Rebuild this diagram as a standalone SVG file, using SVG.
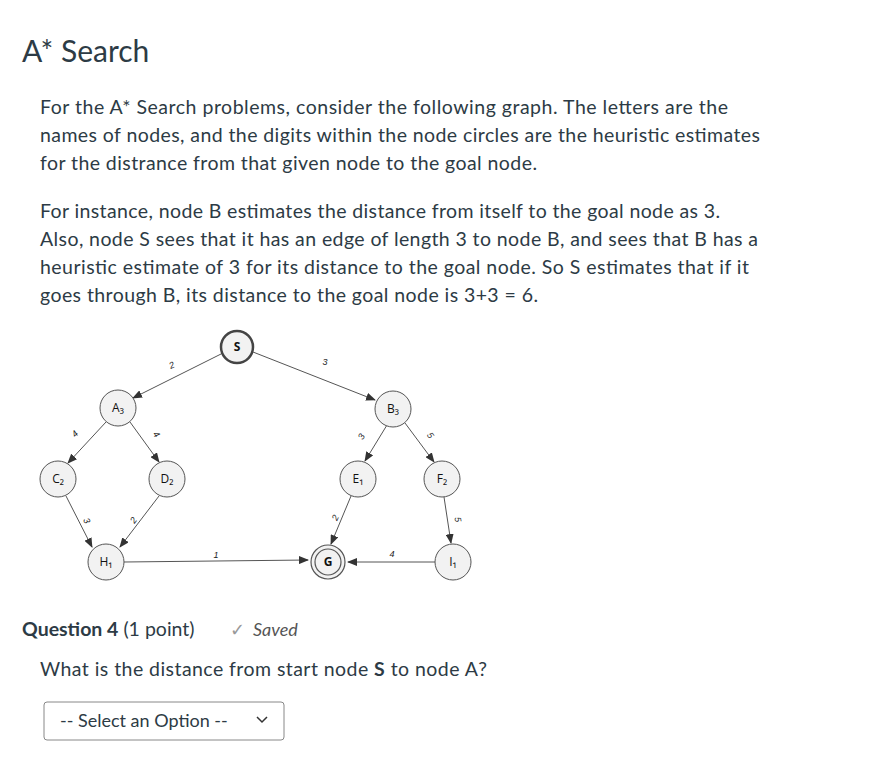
<svg xmlns="http://www.w3.org/2000/svg" width="886" height="760" viewBox="0 0 886 760">
<style>
.t{font-family:Lato,"Liberation Sans",sans-serif;fill:#2d3b45}
.p{font-size:19.5px}
.n circle{fill:#f2f2f2;stroke:#555;stroke-width:1}
.n text{font-family:"Open Sans","Liberation Sans",sans-serif;font-size:12px;fill:#111;text-anchor:middle}
.e line{stroke:#555;stroke-width:1;marker-end:url(#a)}
.l{font-family:"Liberation Sans",sans-serif;font-size:9px;fill:#222;text-anchor:middle;font-style:italic}
</style>
<defs><marker id="a" markerWidth="10" markerHeight="8" refX="9" refY="4" orient="auto" markerUnits="userSpaceOnUse"><path d="M0,0L10,4L0,8z" fill="#333"/></marker></defs>
<rect width="886" height="760" fill="#fff"/>
<text class="t" x="22" y="62" font-size="30">A* Search</text>
<text class="t p" x="40" y="114" textLength="688" lengthAdjust="spacing">For the A* Search problems, consider the following graph.  The letters are the</text>
<text class="t p" x="40" y="142" textLength="720" lengthAdjust="spacing">names of nodes, and the digits within the node circles are the heuristic estimates</text>
<text class="t p" x="40" y="170" textLength="497" lengthAdjust="spacing">for the distrance from that given node to the goal node.</text>
<text class="t p" x="40" y="218" textLength="680" lengthAdjust="spacing">For instance, node B estimates the distance from itself to the goal node as 3.</text>
<text class="t p" x="40" y="246" textLength="718" lengthAdjust="spacing">Also, node S sees that it has an edge of length 3 to node B, and sees that B has a</text>
<text class="t p" x="40" y="274" textLength="709" lengthAdjust="spacing">heuristic estimate of 3 for its distance to the goal node.  So S estimates that if it</text>
<text class="t p" x="40" y="302" textLength="498" lengthAdjust="spacing">goes through B, its distance to the goal node is 3+3 = 6.</text>
<g id="edges" class="e">
<line x1="221" y1="354" x2="133" y2="398"/>
<line x1="253" y1="352" x2="375" y2="400"/>
<line x1="106" y1="422" x2="68" y2="463"/>
<line x1="130" y1="422" x2="159" y2="462"/>
<line x1="387" y1="425" x2="365" y2="461"/>
<line x1="405" y1="423" x2="434" y2="462"/>
<line x1="66" y1="496" x2="92" y2="547"/>
<line x1="159" y1="496" x2="120" y2="547"/>
<line x1="351" y1="496" x2="331" y2="544"/>
<line x1="444" y1="497" x2="451" y2="543"/>
<line x1="124" y1="562" x2="308" y2="560"/>
<line x1="435" y1="562" x2="348" y2="562"/>
</g>
<g id="labels">
<text class="l" x="173" y="368" transform="rotate(-25 173 368)">2</text>
<text class="l" x="325" y="365">3</text>
<text class="l" x="77" y="436" transform="rotate(-45 77 436)">4</text>
<text class="l" x="154" y="436" transform="rotate(55 154 436)">4</text>
<text class="l" x="364" y="438" transform="rotate(-60 364 438)">3</text>
<text class="l" x="428" y="437" transform="rotate(55 428 437)">5</text>
<text class="l" x="84" y="522" transform="rotate(65 84 522)">3</text>
<text class="l" x="136" y="522" transform="rotate(-55 136 522)">2</text>
<text class="l" x="338" y="519" transform="rotate(-65 338 519)">2</text>
<text class="l" x="455" y="520" transform="rotate(80 455 520)">5</text>
<text class="l" x="216" y="558">1</text>
<text class="l" x="392" y="557">4</text>
</g>
<g id="S" class="n"><circle cx="237" cy="347" r="16" style="stroke:#444;stroke-width:2.5"/><text x="237" y="351" font-weight="bold">S</text></g>
<g id="A" class="n"><circle cx="118" cy="408" r="18"/><text x="118" y="412">A₃</text></g>
<g id="B" class="n"><circle cx="393" cy="409" r="18"/><text x="393" y="413">B₃</text></g>
<g id="C" class="n"><circle cx="58" cy="479" r="18"/><text x="58" y="483">C₂</text></g>
<g id="D" class="n"><circle cx="167" cy="479" r="18"/><text x="167" y="483">D₂</text></g>
<g id="E" class="n"><circle cx="358" cy="479" r="18"/><text x="358" y="483">E₁</text></g>
<g id="F" class="n"><circle cx="442" cy="479" r="18"/><text x="442" y="483">F₂</text></g>
<g id="H" class="n"><circle cx="106" cy="562" r="18"/><text x="106" y="566">H₁</text></g>
<g id="G" class="n"><circle cx="328" cy="562" r="17" style="stroke-width:1.2"/><circle cx="328" cy="562" r="13" style="stroke-width:1.2"/><text x="328" y="566" font-weight="bold">G</text></g>
<g id="I" class="n"><circle cx="453" cy="562" r="18"/><text x="453" y="566">I₁</text></g>
<text class="t" x="22" y="636" font-size="19.5"><tspan font-weight="bold">Question 4</tspan> (1 point)</text>
<text x="230" y="636" font-family="Lato,'Liberation Sans',sans-serif" font-size="18" fill="#999">✓</text>
<text x="253" y="636" font-family="Lato,'Liberation Sans',sans-serif" font-size="18" font-style="italic" fill="#555">Saved</text>
<text class="t p" x="40" y="676" textLength="447" lengthAdjust="spacing">What is the distance from start node <tspan font-weight="bold">S</tspan> to node A?</text>
<rect x="44" y="702" width="240" height="38" rx="3" fill="#fff" stroke="#888"/>
<text class="t" x="60" y="727" font-size="18">-- Select an Option --</text>
<path d="M257,717l5,5l5,-5" fill="none" stroke="#333" stroke-width="1.5"/>
</svg>
